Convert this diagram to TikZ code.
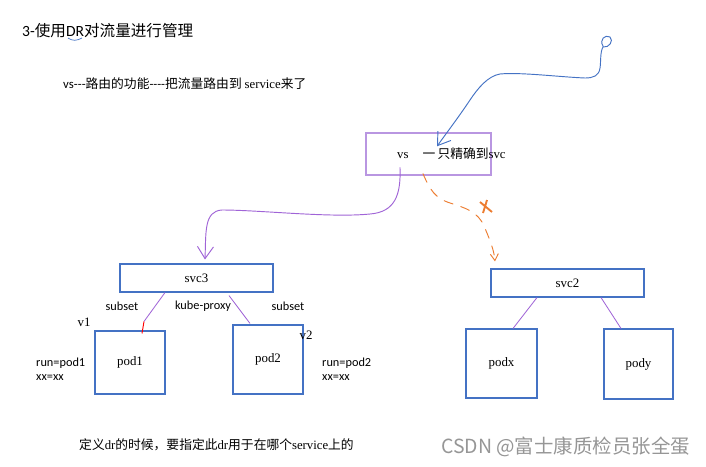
\documentclass[tikz,border=0pt]{standalone}
\usepackage{fontspec}
\setmainfont{Liberation Serif}
\newfontfamily\cjk{Noto Sans CJK SC}
\newfontfamily\cali{Carlito}
\usepackage{xcolor}
\usepackage{tikz}
\usetikzlibrary{arrows.meta, calc}
\definecolor{boxblue}{RGB}{68,114,196}
\definecolor{boxlilac}{RGB}{185,150,225}
\definecolor{penpurple}{RGB}{160,100,215}
\definecolor{penorange}{RGB}{237,125,49}
\definecolor{inkgray}{RGB}{150,150,150}
\tikzset{
  svcbox/.style={rectangle, draw=boxblue, line width=0.9pt, inner sep=0pt,
                 minimum width=4.59cm, minimum height=0.84cm, font=\fontsize{11}{12}\selectfont},
  podbox/.style={rectangle, draw=boxblue, line width=0.9pt, inner sep=0pt,
                 minimum width=2.1cm, minimum height=2.07cm, font=\fontsize{11}{12}\selectfont},
  vsbox/.style={rectangle, draw=boxlilac, line width=1.2pt, inner sep=0pt,
                minimum width=3.75cm, minimum height=1.26cm},
  link/.style={draw=penpurple, line width=0.7pt},
  pen/.style={line width=0.8pt, line cap=round, line join=round}
}
\begin{document}
\begin{tikzpicture}[x=0.03cm, y=-0.03cm,
    note/.style={font=\cali\fontsize{10.5}{12}\selectfont, inner sep=0pt},
    lbl/.style={font=\fontsize{11}{12}\selectfont, inner sep=0pt},
    txt/.style={font=\fontsize{10.9}{12}\selectfont, inner sep=0pt, anchor=west}
  ]
  \fill[white] (0,0) rectangle (706,466);
  \useasboundingbox (0,0) rectangle (706,466);

  % Headings
  \node[inner sep=0pt, anchor=west, font=\fontsize{13.3}{15}\selectfont] (title) at (22,31)
    {\cali 3-\cjk 使用\cali DR\cjk 对流量进行管理};
  \draw[boxblue, line width=0.6pt] (68,38) .. controls (72,41) and (77,41) .. (82,38);
  \node[txt] (intro) at (63,84)
    {\cali vs---\cjk 路由的功能\cali ----\cjk 把流量路由到 \rmfamily service\cjk 来了};

  % Virtual service
  \node[vsbox] (vs) at (428.5,154) {};
  \node[txt] (vstext) at (397,154) {vs\hspace{1.1em}{\cjk 一\,只精确到}svc};

  % Services and pods
  \node[svcbox] (svc3) at (196.5,278) {svc3};
  \node[podbox, minimum height=1.89cm] (pod1) at (130,362.5) {pod1};
  \node[podbox] (pod2) at (268,359.5) {pod2};
  \node[svcbox] (svc2) at (567.5,283) {svc2};
  \node[podbox, minimum width=2.13cm] (podx) at (501.5,363.5) {podx};
  \node[podbox, minimum width=2.07cm, minimum height=2.1cm] (pody) at (638.5,364) {pody};

  % Labels
  \node[note] (sub1) at (122,306) {subset};
  \node[note] (proxy) at (203,306) {kube-proxy};
  \node[note] (sub2) at (288,306) {subset};
  \node[lbl] (v1) at (84,322) {v1};
  \node[lbl] (v2) at (306,335) {v2};
  \node[note, anchor=west] (run1) at (36,363) {run=pod1};
  \node[note, anchor=west] (xx1) at (36,378) {xx=xx};
  \node[note, anchor=west] (run2) at (322,363) {run=pod2};
  \node[note, anchor=west] (xx2) at (322,378) {xx=xx};

  % Hand drawn connectors
  \coordinate (scribble) at (603,46);
  \coordinate (vshit) at ($(vs.north)+(8.5,14)$);
  \coordinate (vsfoot) at ($(vs.south)+(-28.5,-8)$);
  \coordinate (vsedge) at ($(vs.south)+(-5.5,-2)$);
  \coordinate (svc3top) at ($(svc3.north)+(8.5,-4)$);
  \coordinate (svc2top) at ($(svc2.north)+(-72.5,-7)$);
  \coordinate (bend1) at ($(pod1.north)+(14,-9)$);

  \draw[pen, boxblue, -{Straight Barb[length=3.6mm, width=4.8mm]}] (scribble)
    .. controls (599,40) and (605,34) .. (610,37)
    .. controls (614,41) and (609,48) .. (603,47)
    .. controls (600,52) and (601,62) .. (600,68)
    .. controls (599,76) and (593,78) .. (585,78)
    .. controls (560,77) and (520,72) .. (500,74)
    .. controls (488,76) and (478,88) .. (470,100)
    .. controls (458,118) and (445,135) .. (vshit);
  \draw[pen, penpurple, -{Straight Barb[length=3.6mm, width=4.8mm]}] (vsfoot)
    .. controls (401,195) and (395,212) .. (370,214)
    .. controls (330,218) and (260,210) .. (222,210)
    .. controls (204,211) and (206,232) .. (svc3top);
  \draw[pen, penorange, dash pattern=on 8pt off 7pt, -{Straight Barb[length=2mm, width=2.4mm]}] (vsedge)
    .. controls (430,190) and (435,198) .. (450,203)
    .. controls (466,208) and (478,212) .. (484,226)
    .. controls (490,240) and (494,250) .. (svc2top);
  \draw[penorange, line width=1.6pt] (480,202) -- (492,212) (487,200) -- (483,213);

  \draw[link] ($(svc3.south)+(-31.5,0)$) -- (bend1);
  \draw[red, line width=0.8pt] (bend1) -- ($(pod1.north)+(12,3)$);
  \draw[link] ($(svc3.south)+(32.5,3)$) -- ($(pod2.north)+(-18,-1)$);
  \draw[link] ($(svc2.south)+(-30.5,0)$) -- ($(podx.north)+(11.5,0)$);
  \draw[link] ($(svc2.south)+(33.5,0)$) -- ($(pody.north)+(-17.5,0)$);

  % Footer
  \node[txt] (footer) at (79,445)
    {\cjk 定义\rmfamily dr\cjk 的时候，要指定此\rmfamily dr\cjk 用于在哪个\rmfamily service\cjk 上的};
  \node[inner sep=0pt, anchor=west, text=inkgray, font=\cjk\fontsize{16.6}{18}\selectfont] (mark) at (441,447)
    {CSDN @富士康质检员张全蛋};
\end{tikzpicture}
\end{document}
